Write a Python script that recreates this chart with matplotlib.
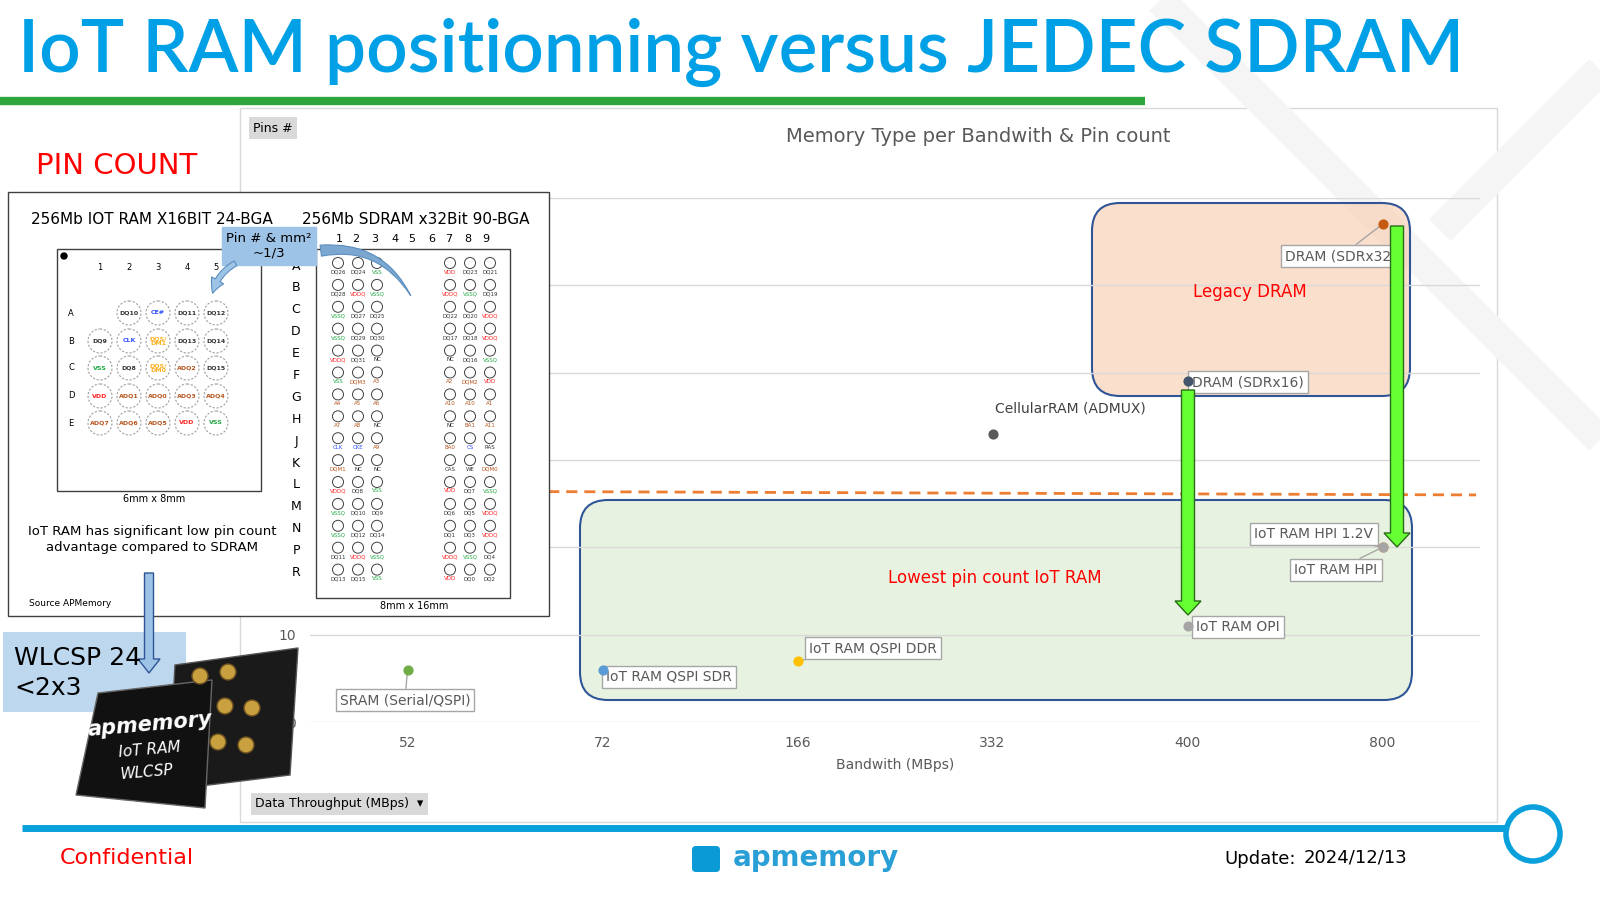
import numpy as np
import matplotlib
matplotlib.use("Agg")
import matplotlib.pyplot as plt
from matplotlib.patches import FancyBboxPatch, Rectangle, Circle, FancyArrowPatch, FancyArrow, Polygon

# ---- chart data ----
bandwidth_labels = ["52", "72", "166", "332", "400", "800"]
point_names = ["SRAM (Serial/QSPI)", "IoT RAM QSPI SDR", "IoT RAM QSPI DDR", "CellularRAM (ADMUX)",
               "IoT RAM OPI", "DRAM (SDRx16)", "IoT RAM HPI", "IoT RAM HPI 1.2V", "DRAM (SDRx32)"]
point_bw = ["52", "72", "166", "332", "400", "400", "800", "800", "800"]
point_pins = [6, 6, 7, 33, 11, 39, 20, 20, 57]
point_colors = ["#70ad47", "#5b9bd5", "#ffc000", "#595959", "#a5a5a5", "#44546a", "#ed7d31", "#a5a5a5", "#c55a11"]
# label box centres (slide pixels)
label_pos = [(405, 700), (669, 677), (873, 648), (1070, 409), (1238, 627), (1248, 382),
             (1336, 570), (1314, 534), (1341, 256)]
pin_limit = [26.5, 26.0]

iot_cols = ["1", "2", "3", "4", "5"]
iot_rows = ["A", "B", "C", "D", "E"]
iot_pins = [["", "DQ10", "CE#", "DQ11", "DQ12"],
            ["DQ9", "CLK", "DQS/\nDM1", "DQ13", "DQ14"],
            ["VSS", "DQ8", "DQS/\nDM0", "ADQ2", "DQ15"],
            ["VDD", "ADQ1", "ADQ0", "ADQ3", "ADQ4"],
            ["ADQ7", "ADQ6", "ADQ5", "VDD", "VSS"]]
sd_cols = ["1", "2", "3", "4", "5", "6", "7", "8", "9"]
sd_rows = list("ABCDEFGHJKLMNPR")
sd_left = [["DQ26", "DQ24", "VSS"], ["DQ28", "VDDQ", "VSSQ"], ["VSSQ", "DQ27", "DQ25"], ["VSSQ", "DQ29", "DQ30"],
           ["VDDQ", "DQ31", "NC"], ["VSS", "DQM3", "A3"], ["A4", "A5", "A6"], ["A7", "A8", "NC"],
           ["CLK", "CKE", "A9"], ["DQM1", "NC", "NC"], ["VDDQ", "DQ8", "VSS"], ["VSSQ", "DQ10", "DQ9"],
           ["VSSQ", "DQ12", "DQ14"], ["DQ11", "VDDQ", "VSSQ"], ["DQ13", "DQ15", "VSS"]]
sd_right = [["VDD", "DQ23", "DQ21"], ["VDDQ", "VSSQ", "DQ19"], ["DQ22", "DQ20", "VDDQ"], ["DQ17", "DQ18", "VDDQ"],
            ["NC", "DQ16", "VSSQ"], ["A2", "DQM2", "VDD"], ["A10", "A10", "A1"], ["NC", "BA1", "A11"],
            ["BA0", "CS", "RAS"], ["CAS", "WE", "DQM0"], ["VDD", "DQ7", "VSSQ"], ["DQ6", "DQ5", "VDDQ"],
            ["DQ1", "DQ3", "VDDQ"], ["VDDQ", "VSSQ", "DQ4"], ["VDD", "DQ0", "DQ2"]]


def pin_color(name):
    if name.startswith("VDD"):
        return "#ff2020"
    if name.startswith("VSS"):
        return "#22aa44"
    if name in ("CLK", "CKE", "CE#", "CS"):
        return "#3050ff"
    if name.startswith("DQS"):
        return "#ffb020"
    if name == "NC":
        return "#222222"
    if name.startswith("ADQ") or name.startswith("A") or name.startswith("DQM") or name.startswith("BA"):
        return "#b5541c"
    return "#333333"


fig = plt.figure(figsize=(16, 9), dpi=100)
W, H = 1600, 900

def px_rect(x0, y0, x1, y1):
    return [x0 / W, 1 - y1 / H, (x1 - x0) / W, (y1 - y0) / H]

# pixel overlay (background layer)
bg = fig.add_axes([0, 0, 1, 1], zorder=0)
bg.set_xlim(0, W); bg.set_ylim(H, 0); bg.axis("off")

# main chart
ax = fig.add_axes(px_rect(310, 198, 1480, 722), zorder=1)
ax.patch.set_alpha(0)
xpos = {b: i for i, b in enumerate(bandwidth_labels)}
ax.set_xlim(-0.5, len(bandwidth_labels) - 0.5)
ax.set_ylim(0, 60)
ax.set_yticks([0, 10, 20, 30, 40, 50, 60])
ax.set_yticklabels(["0", "10", "", "", "", "", ""])
ax.set_xticks(range(len(bandwidth_labels)))
ax.set_xticklabels(bandwidth_labels)
ax.tick_params(length=0, labelsize=10, colors="#595959", pad=10)
ax.grid(axis="y", color="#d9d9d9", lw=1)
for s in ax.spines.values():
    s.set_visible(False)
ax.set_xlabel("Bandwith (MBps)", fontsize=10, color="#595959", labelpad=6)

# top overlay for slide elements
ov = fig.add_axes([0, 0, 1, 1], zorder=2)
ov.set_xlim(0, W); ov.set_ylim(H, 0); ov.axis("off")
ov.patch.set_alpha(0)

# faint watermark
bg.plot([1160, 1600], [0, 440], color="#f5f5f5", lw=22, solid_capstyle="butt")
bg.plot([1440, 1600], [230, 70], color="#f5f5f5", lw=22, solid_capstyle="butt")

# chart frame and title
bg.add_patch(Rectangle((240, 108), 1257, 714, fill=False, ec="#d9d9d9", lw=1))
bg.text(978, 137, "Memory Type per Bandwith & Pin count", fontsize=14, color="#595959", ha="center", va="center")
bg.text(273, 128, "Pins #", fontsize=9, ha="center", va="center",
        bbox=dict(boxstyle="square,pad=0.35", fc="#d9d9d9", ec="none"))
bg.text(255, 804, "Data Throughput (MBps)  \u25be", fontsize=9, ha="left", va="center",
        bbox=dict(boxstyle="square,pad=0.35", fc="#d9d9d9", ec="none"))

# region boxes
for (bx, by, bw_, bh_), fc, al in [((1092, 203, 318, 193), "#f8cbad", 0.6), ((580, 500, 832, 200), "#e2f0d9", 0.8)]:
    ax.add_patch(FancyBboxPatch((bx, by), bw_, bh_, boxstyle="round,pad=0,rounding_size=28",
                                fc=fc, ec="none", alpha=al, transform=bg.transData, zorder=0))
    ax.add_patch(FancyBboxPatch((bx, by), bw_, bh_, boxstyle="round,pad=0,rounding_size=28",
                                fc="none", ec="#2f5597", lw=1.5, transform=bg.transData, zorder=0))
ax.text(1250, 292, "Legacy DRAM", fontsize=12, color="#ff0000", ha="center", va="center", transform=bg.transData)
ax.text(995, 578, "Lowest pin count IoT RAM", fontsize=12, color="#ff0000", ha="center", va="center",
        transform=bg.transData)

# pin limit line
ax.plot([-0.76, 5.48], pin_limit, color="#ed7d31", lw=2, ls=(0, (4, 2.5)), clip_on=False, zorder=2)

# points and labels
for name, bw, pins, col, pos in zip(point_names, point_bw, point_pins, point_colors, label_pos):
    x = xpos[bw]
    ax.scatter([x], [pins], s=40, color=col, zorder=5)
    if name.startswith("CellularRAM"):
        ax.annotate(name, (x, pins), xytext=pos, textcoords=bg.transData, fontsize=10, color="#404040",
                    ha="center", va="center")
    else:
        ax.annotate(name, (x, pins), xytext=pos, textcoords=bg.transData, fontsize=10, color="#595959",
                    ha="center", va="center", zorder=4,
                    bbox=dict(boxstyle="square,pad=0.3", fc="white", ec="#a6a6a6", lw=1),
                    arrowprops=dict(arrowstyle="-", color="#a6a6a6", lw=1, shrinkA=0, shrinkB=2))

# green arrows
for xa, y0, y1 in [(1188, 390, 615), (1397, 226, 547)]:
    ov.add_patch(FancyArrow(xa, y0, 0, y1 - y0, width=13, head_width=26, head_length=14,
                            length_includes_head=True, fc="#66ff33", ec="#2a6b1a", lw=1))

# ---- left panel ----
ov.add_patch(Rectangle((8, 192), 541, 424, fc="white", ec="#404040", lw=1))
ov.text(152, 219, "256Mb IOT RAM X16BIT 24-BGA", fontsize=11, ha="center", va="center")
ov.text(416, 219, "256Mb SDRAM x32Bit 90-BGA", fontsize=11, ha="center", va="center")
ov.add_patch(Rectangle((57, 249), 204, 242, fill=False, ec="#404040", lw=1))
ov.add_patch(Circle((64, 256), 3, color="black"))
ixs = [100, 129, 158, 187, 216]
iys = [313, 341, 368, 396, 423]
for c, xx in zip(iot_cols, ixs):
    ov.text(xx, 268, c, fontsize=6, ha="center", va="center")
for r, yy, row in zip(iot_rows, iys, iot_pins):
    ov.text(71, yy, r, fontsize=6, ha="center", va="center")
    for xx, p in zip(ixs, row):
        if p:
            ov.add_patch(Circle((xx, yy), 12, fill=False, ec="#a0a0a0", lw=0.8, ls=(0, (2, 1.5))))
            ov.text(xx, yy, p, fontsize=4.5, ha="center", va="center", color=pin_color(p), fontweight="bold",
                    linespacing=0.9)
ov.text(154, 499, "6mm x 8mm", fontsize=7, ha="center", va="center")
ov.text(152, 540, "IoT RAM has significant low pin count\nadvantage compared to SDRAM", fontsize=9.5,
        ha="center", va="center", linespacing=1.3)
ov.text(29, 603, "Source APMemory", fontsize=6.5, ha="left", va="center")

ov.add_patch(Rectangle((316, 249), 194, 349, fill=False, ec="#404040", lw=1))
sxs = [339, 356, 375, 395, 412, 432, 449, 468, 486]
for c, xx in zip(sd_cols, sxs):
    ov.text(xx, 239, c, fontsize=8, ha="center", va="center")
cxs = [338, 358, 377, 450, 470, 490]
for i, r in enumerate(sd_rows):
    yy = 266 + i * 21.9
    ov.text(296, yy, r, fontsize=9, ha="center", va="center")
    for xx, p in zip(cxs, sd_left[i] + sd_right[i]):
        ov.add_patch(Circle((xx, yy - 3), 5.5, fill=False, ec="#404040", lw=0.7))
        ov.text(xx, yy + 6, p, fontsize=4, ha="center", va="center", color=pin_color(p))
ov.text(414, 606, "8mm x 16mm", fontsize=7, ha="center", va="center")

# callout
ov.add_patch(Rectangle((222, 227), 94, 38, fc="#9dc3e6", ec="#9dc3e6", zorder=3))
ov.text(269, 246, "Pin # & mm\u00b2\n~1/3", fontsize=9.5, ha="center", va="center", zorder=4, linespacing=1.2)
ov.add_patch(FancyArrowPatch((238, 262), (212, 296), connectionstyle="arc3,rad=0.25",
                             arrowstyle="simple,head_width=10,head_length=10,tail_width=4",
                             fc="#9dc3e6", ec="#5b8fc0", lw=0.8, zorder=3))
ov.add_patch(FancyArrowPatch((318, 251), (412, 298), connectionstyle="arc3,rad=-0.35",
                             arrowstyle="wedge,tail_width=8,shrink_factor=0.5",
                             fc="#7ba7d0", ec="#5b8fc0", lw=0.8, zorder=3))

# WLCSP block
ov.add_patch(Rectangle((3, 632), 183, 80, fc="#bdd7ee", ec="none"))
ov.text(14, 673, "WLCSP 24\n<2x3", fontsize=18, ha="left", va="center", linespacing=1.3)
ov.add_patch(FancyArrow(149, 573, 0, 100, width=9, head_width=22, head_length=14,
                        length_includes_head=True, fc="#9dc3e6", ec="#2f5597", lw=1))
# chip sketch
ov.add_patch(Polygon([(175, 665), (298, 648), (290, 775), (168, 790)], closed=True, fc="#1a1a1a", ec="#555555"))
ov.add_patch(Polygon([(98, 693), (212, 680), (205, 808), (76, 795)], closed=True, fc="#111111", ec="#666666"))
for bx, by in [(200, 676), (228, 672), (225, 706), (252, 708), (218, 742), (246, 745)]:
    ov.add_patch(Circle((bx, by), 8, fc="#c8a040", ec="#6b5020"))
ov.text(150, 725, "apmemory", fontsize=15, color="white", ha="center", va="center", fontstyle="italic",
        fontweight="bold", rotation=5)
ov.text(150, 750, "IoT RAM", fontsize=11, color="white", ha="center", va="center", fontstyle="italic", rotation=5)
ov.text(147, 772, "WLCSP", fontsize=11, color="white", ha="center", va="center", fontstyle="italic", rotation=5)

# ---- slide header / footer ----
bg.text(18, 52, "IoT RAM positionning versus JEDEC SDRAM", fontsize=52.5, color="#00a0e6", ha="left",
        va="center", family="Lato", fontweight="semibold")
bg.plot([0, 1145], [101, 101], color="#2ea43c", lw=6, solid_capstyle="butt")
ov.text(36, 166, "PIN COUNT", fontsize=21, color="#ff0000", ha="left", va="center")
bg.plot([22, 1505], [828, 828], color="#0aa0dc", lw=5, solid_capstyle="butt")
bg.add_patch(Circle((1533, 834), 27, fc="white", ec="#0aa0dc", lw=4))
bg.text(60, 858, "Confidential", fontsize=16, color="#ff0000", ha="left", va="center")
bg.add_patch(FancyBboxPatch((692, 846), 28, 26, boxstyle="round,pad=0,rounding_size=4", fc="#0a9ad6", ec="none"))
bg.text(733, 858, "apmemory", fontsize=20, color="#2a9fd6", fontweight="bold", ha="left", va="center")
bg.text(1224, 859, "Update:", fontsize=13, ha="left", va="center")
bg.text(1304, 858, "2024/12/13", fontsize=13, ha="left", va="center")

fig.savefig("out.png", dpi=100)
